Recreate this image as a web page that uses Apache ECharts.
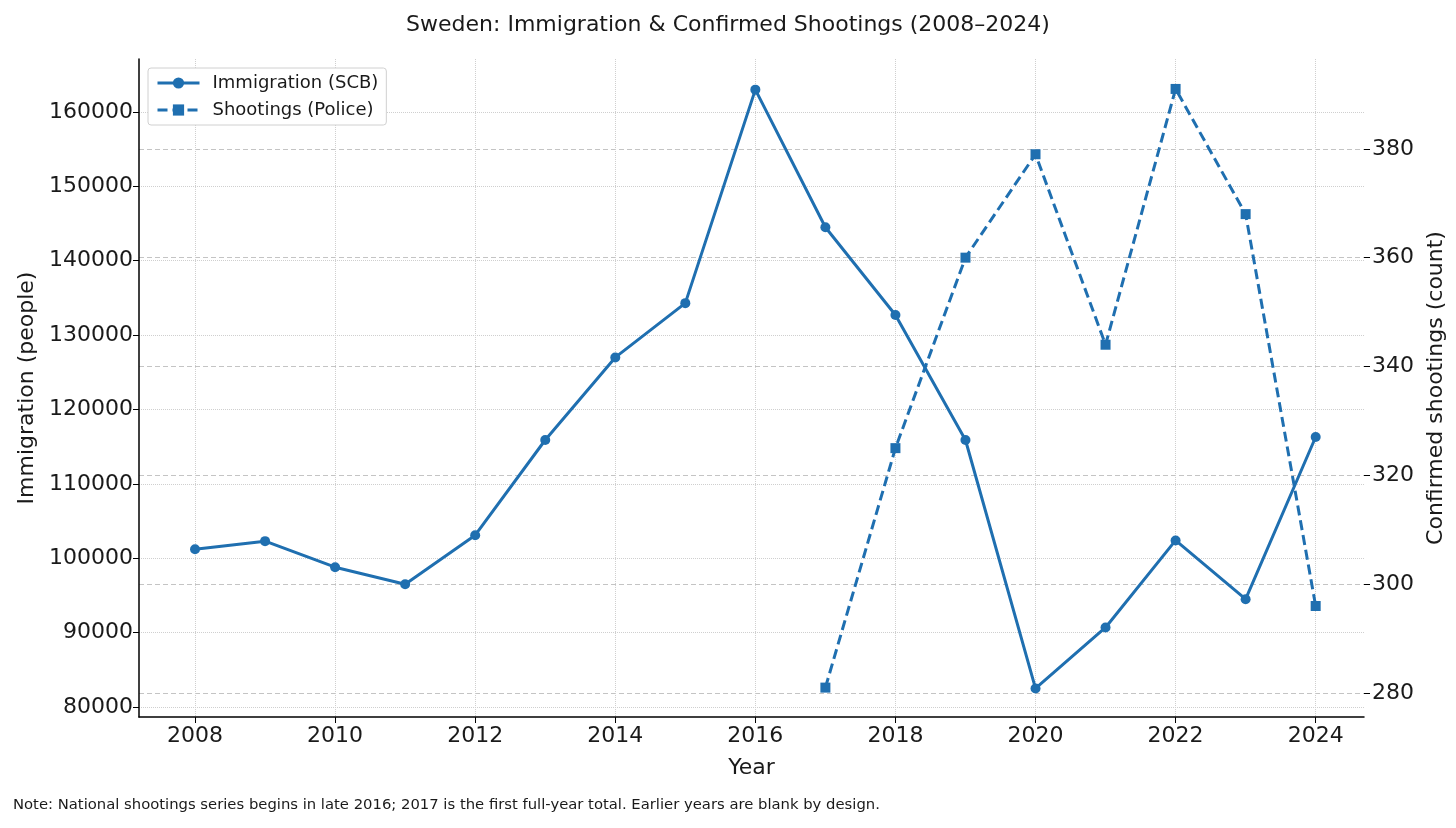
<!DOCTYPE html>
<html>
<head>
<meta charset="utf-8">
<script src="https://cdn.jsdelivr.net/npm/echarts@6/dist/echarts.min.js"></script>
<style>
html,body{margin:0;padding:0;background:#fff;}
#chart{width:1456px;height:828px;}
</style>
</head>
<body>
<div id="chart"></div>
<script>
var years = [2008,2009,2010,2011,2012,2013,2014,2015,2016,2017,2018,2019,2020,2021,2022,2023,2024];
var immigration = [101200,102300,98800,96500,103100,115900,127000,134300,163000,144500,132700,115900,82500,90700,102400,94500,116300];
// shootings series starts in 2017
var shootYears = [2017,2018,2019,2020,2021,2022,2023,2024];
var shootings = [281,325,360,379,344,391,368,296];
var xTicks = [2008,2010,2012,2014,2016,2018,2020,2022,2024];
var leftTicks = [80000,90000,100000,110000,120000,130000,140000,150000,160000];
var rightTicks = [280,300,320,340,360,380];

var blue = '#1f6fb0';
var font = 'DejaVu Sans';
var ink = '#1a1a1a';

var chart = echarts.init(document.getElementById('chart'));

chart.setOption({
    animation:false,
    textStyle:{fontFamily:font},
    title:{
        text:'Sweden: Immigration & Confirmed Shootings (2008–2024)',
        left:'center',
        top:9,
        textStyle:{fontFamily:font,fontSize:22,fontWeight:'normal',color:ink}
    },
    graphic:[{
        type:'text',
        left:13,
        top:798,
        style:{text:'Note: National shootings series begins in late 2016; 2017 is the first full-year total. Earlier years are blank by design.',
            font:'14.8px DejaVu Sans',fill:ink}
    }],
    legend:{
        left:148,
        top:68,
        orient:'vertical',
        itemGap:9,
        itemWidth:42,
        itemHeight:14,
        padding:[6,8,6,8],
        borderColor:'#d0d0d0',
        borderWidth:1,
        borderRadius:3,
        backgroundColor:'#fff',
        lineStyle:{width:3},
        textStyle:{fontFamily:font,fontSize:18,color:ink,padding:[0,0,0,8]},
        data:['Immigration (SCB)','Shootings (Police)']
    },
    grid:{left:139,right:92,top:59,bottom:111},
    xAxis:{
        type:'value',
        min:2007.2,
        max:2024.69,
        name:'Year',
        nameLocation:'middle',
        nameGap:40,
        nameTextStyle:{fontFamily:font,fontSize:22,color:ink},
        axisLine:{show:true,onZero:false,lineStyle:{color:'#000',width:1.5}},
        axisTick:{show:true,inside:false,length:6,customValues:xTicks,lineStyle:{color:'#000'}},
        axisLabel:{customValues:xTicks,fontFamily:font,fontSize:22,color:ink,margin:8,
            formatter:function(v){return String(v);}},
        splitLine:{show:true,lineStyle:{color:'#cfcfcf',type:'dotted',width:1}}
    },
    yAxis:[{
        type:'value',
        min:78660,
        max:167120,
        position:'left',
        name:'Immigration (people)',
        nameLocation:'middle',
        nameGap:99,
        nameTextStyle:{fontFamily:font,fontSize:22,color:ink},
        axisLine:{show:true,lineStyle:{color:'#000',width:1.5}},
        axisTick:{show:true,length:6,customValues:leftTicks,lineStyle:{color:'#000'}},
        axisLabel:{customValues:leftTicks,fontFamily:font,fontSize:22,color:ink,margin:6,
            formatter:function(v){return String(v);}},
        splitLine:{show:true,lineStyle:{color:'#cfcfcf',type:'dotted',width:1}}
    },{
        type:'value',
        min:275.6,
        max:396.5,
        position:'right',
        name:'Confirmed shootings (count)',
        nameLocation:'middle',
        nameGap:56,
        nameRotate:90,
        nameTextStyle:{fontFamily:font,fontSize:22,color:ink},
        axisLine:{show:false},
        axisTick:{show:true,length:6,customValues:rightTicks,lineStyle:{color:'#000'}},
        axisLabel:{customValues:rightTicks,fontFamily:font,fontSize:22,color:ink,margin:8,
            formatter:function(v){return String(v);}},
        splitLine:{show:true,lineStyle:{color:'#c4c4c4',type:[5,3],width:1}}
    }],
    series:[{
        name:'Immigration (SCB)',
        type:'line',
        yAxisIndex:0,
        data:years.map(function(y,i){return [y,immigration[i]];}),
        symbol:'circle',
        symbolSize:10,
        lineStyle:{color:blue,width:3},
        itemStyle:{color:blue},
        z:3
    },{
        name:'Shootings (Police)',
        type:'line',
        yAxisIndex:1,
        data:shootYears.map(function(y,i){return [y,shootings[i]];}),
        symbol:'rect',
        symbolSize:10,
        lineStyle:{color:blue,width:3,type:[10,5]},
        itemStyle:{color:blue},
        z:3
    }]
});
</script>
</body>
</html>
